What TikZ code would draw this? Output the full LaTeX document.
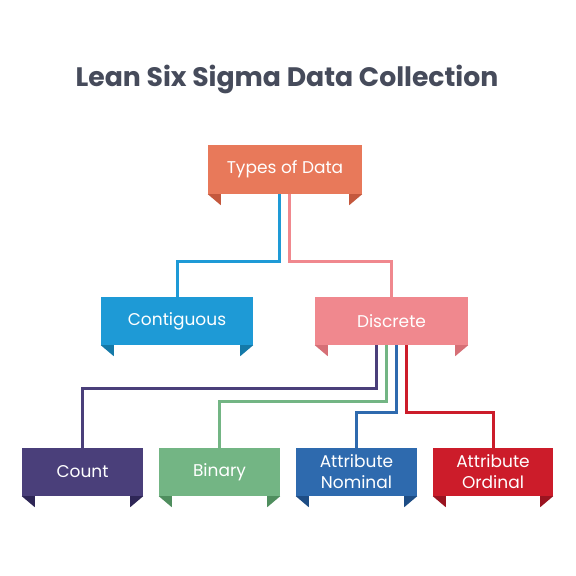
\documentclass[tikz,border=0pt]{standalone}
\usepackage{fontspec}
\setmainfont{Poppins}
\definecolor{titlec}{HTML}{464B5B}
\definecolor{typesc}{HTML}{E8795A}\definecolor{typest}{HTML}{C4583D}
\definecolor{contc}{HTML}{1E9AD6}\definecolor{contt}{HTML}{1479A8}
\definecolor{discc}{HTML}{F0888E}\definecolor{disct}{HTML}{D66F76}
\definecolor{countc}{HTML}{4A3F7A}\definecolor{countt}{HTML}{2E2656}
\definecolor{binc}{HTML}{73B584}\definecolor{bint}{HTML}{4F8E5E}
\definecolor{nomc}{HTML}{2E6AAE}\definecolor{nomt}{HTML}{1E4D85}
\definecolor{ordc}{HTML}{CC1C2A}\definecolor{ordt}{HTML}{9A1420}
\tikzset{
  box/.style={rectangle, inner sep=0pt, text=white, align=center,
    font=\fontsize{17}{21}\selectfont},
  conn/.style={line width=3pt},
}
\newcommand{\tabs}[2]{%
  \fill[#2] (#1.south west) -- ++(13,0) -- ++(0,11) -- cycle;
  \fill[#2] (#1.south east) -- ++(-13,0) -- ++(0,11) -- cycle;}
\begin{document}
\begin{tikzpicture}[x=1pt,y=-1pt]
\useasboundingbox[fill=white] (0,0) rectangle (576,576);
\node[font=\fontsize{26.7}{30}\bfseries\selectfont, text=titlec] (title) at (287,79) {Lean Six Sigma Data Collection};
% boxes
\node[box, fill=typesc, minimum width=154, minimum height=49] (types) at (285,169.5) {Types of Data};
\node[box, fill=contc, minimum width=152, minimum height=48] (contig) at (177,321) {Contiguous};
\node[box, fill=discc, minimum width=153, minimum height=48] (disc) at (391.5,321) {Discrete};
\node[box, fill=countc, minimum width=121, minimum height=48] (count) at (82.5,472) {Count};
\node[box, fill=binc, minimum width=121, minimum height=48] (binary) at (219.5,472) {Binary};
\node[box, fill=nomc, minimum width=121, minimum height=48] (nominal) at (356.5,472) {Attribute\\Nominal};
\node[box, fill=ordc, minimum width=120, minimum height=48] (ordinal) at (493,472) {Attribute\\Ordinal};
\tabs{types}{typest}
\tabs{contig}{contt}
\tabs{disc}{disct}
\tabs{count}{countt}
\tabs{binary}{bint}
\tabs{nominal}{nomt}
\tabs{ordinal}{ordt}
% connectors
\draw[conn, contc] ([xshift=-6]types.south) -- ++(0,67) -| (contig.north);
\draw[conn, discc] ([xshift=4]types.south) -- ++(0,67) -| (disc.north);
\draw[conn, countc] ([xshift=-15]disc.south) -- ++(0,43) -| (count.north);
\draw[conn, binc] ([xshift=-5]disc.south) -- ++(0,56) -| (binary.north);
\draw[conn, nomc] ([xshift=5]disc.south) -- ++(0,67) -| (nominal.north);
\draw[conn, ordc] ([xshift=15]disc.south) -- ++(0,67) -| (ordinal.north);
\end{tikzpicture}
\end{document}
